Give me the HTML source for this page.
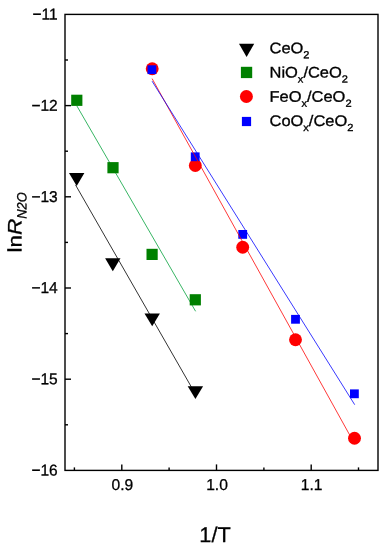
<!DOCTYPE html>
<html><head><meta charset="utf-8"><title>lnR vs 1/T</title>
<style>html,body{margin:0;padding:0;background:#fff}svg{display:block}text{text-rendering:geometricPrecision;font-family:"Liberation Sans",Arial,sans-serif;fill:#000;stroke:#000;stroke-width:0.3px}</style></head><body>
<svg width="385" height="550" viewBox="0 0 385 550">
<rect width="385" height="550" fill="#fff"/>
<g fill="none" stroke-width="1" stroke-linecap="butt">
<line x1="75.5" y1="184.9" x2="195.4" y2="394" stroke="#000" stroke-opacity="0.8"/>
<line x1="76.8" y1="105.8" x2="195.6" y2="311.3" stroke="#00a038" stroke-opacity="0.78"/>
</g>
<polygon points="69.0,173.1 84.4,173.1 76.7,186.0" fill="#000"/>
<polygon points="105.1,258.3 120.5,258.3 112.8,271.2" fill="#000"/>
<polygon points="144.5,313.4 159.9,313.4 152.2,326.3" fill="#000"/>
<polygon points="187.7,386.2 203.1,386.2 195.4,399.1" fill="#000"/>
<rect x="71.2" y="94.7" width="11.2" height="11.2" fill="#008000"/>
<rect x="107.4" y="162.1" width="11.2" height="11.2" fill="#008000"/>
<rect x="146.5" y="248.8" width="11.2" height="11.2" fill="#008000"/>
<rect x="189.7" y="294.2" width="11.2" height="11.2" fill="#008000"/>
<circle cx="152.2" cy="68.8" r="6.45" fill="#ff0000"/>
<circle cx="195.3" cy="165.5" r="6.45" fill="#ff0000"/>
<circle cx="242.7" cy="247.2" r="6.45" fill="#ff0000"/>
<circle cx="295.5" cy="339.8" r="6.45" fill="#ff0000"/>
<circle cx="354.5" cy="438.3" r="6.45" fill="#ff0000"/>
<rect x="147.5" y="65.3" width="8.8" height="8.8" fill="#0000ff"/>
<rect x="190.8" y="152.4" width="8.8" height="8.8" fill="#0000ff"/>
<rect x="238.3" y="230.0" width="8.8" height="8.8" fill="#0000ff"/>
<rect x="291.1" y="314.9" width="8.8" height="8.8" fill="#0000ff"/>
<rect x="350.0" y="389.4" width="8.8" height="8.8" fill="#0000ff"/>
<g fill="none" stroke-width="1">
<line x1="152.1" y1="78.6" x2="354.5" y2="443.7" stroke="#ff0000" stroke-opacity="0.78"/>
<line x1="152.1" y1="81.2" x2="354.7" y2="404.7" stroke="#0000ff" stroke-opacity="0.78"/>
</g>
<g stroke="#000" stroke-width="1.4" fill="none">
<rect x="65.0" y="14.4" width="313.0" height="456.0"/>
<line x1="65.0" y1="60.0" x2="68.0" y2="60.0"/>
<line x1="65.0" y1="105.6" x2="71.0" y2="105.6"/>
<line x1="65.0" y1="151.2" x2="68.0" y2="151.2"/>
<line x1="65.0" y1="196.8" x2="71.0" y2="196.8"/>
<line x1="65.0" y1="242.4" x2="68.0" y2="242.4"/>
<line x1="65.0" y1="288.0" x2="71.0" y2="288.0"/>
<line x1="65.0" y1="333.6" x2="68.0" y2="333.6"/>
<line x1="65.0" y1="379.2" x2="71.0" y2="379.2"/>
<line x1="65.0" y1="424.8" x2="68.0" y2="424.8"/>
<line x1="74.4" y1="470.4" x2="74.4" y2="467.4"/>
<line x1="121.8" y1="470.4" x2="121.8" y2="464.4"/>
<line x1="169.1" y1="470.4" x2="169.1" y2="467.4"/>
<line x1="216.5" y1="470.4" x2="216.5" y2="464.4"/>
<line x1="263.9" y1="470.4" x2="263.9" y2="467.4"/>
<line x1="311.2" y1="470.4" x2="311.2" y2="464.4"/>
<line x1="358.5" y1="470.4" x2="358.5" y2="467.4"/>
</g>
<g font-size="15.6" text-anchor="end">
<text transform="translate(57.7,19.5) rotate(0.05) scale(0.995,1)">−11</text>
<text transform="translate(57.7,110.7) rotate(0.05) scale(0.995,1)">−12</text>
<text transform="translate(57.7,201.9) rotate(0.05) scale(0.995,1)">−13</text>
<text transform="translate(57.7,293.1) rotate(0.05) scale(0.995,1)">−14</text>
<text transform="translate(57.7,384.3) rotate(0.05) scale(0.995,1)">−15</text>
<text transform="translate(57.7,475.5) rotate(0.05) scale(0.995,1)">−16</text>
</g>
<g font-size="15.6" text-anchor="middle">
<text transform="translate(122.3,489.9) rotate(0.05)">0.9</text>
<text transform="translate(217.0,489.9) rotate(0.05)">1.0</text>
<text transform="translate(311.7,489.9) rotate(0.05)">1.1</text>
</g>
<text transform="translate(215.0,541.9) rotate(0.05) scale(1.02,1)" font-size="21.3" text-anchor="middle">1/T</text>
<text transform="translate(21.4,252.6) rotate(-89.95) scale(1.145,1)" font-size="19.6">ln<tspan font-style="italic">R</tspan></text>
<text transform="translate(26.5,218.7) rotate(-89.95) scale(0.94,1)" font-size="13.6" font-style="italic">N2O</text>
<polygon points="239,43.7 254.2,43.7 246.6,57.0" fill="#000"/>
<rect x="240.9" y="66.8" width="11.3" height="11.3" fill="#008000"/>
<circle cx="246.4" cy="96.5" r="6.5" fill="#ff0000"/>
<rect x="241.9" y="116.9" width="9.2" height="9.2" fill="#0000ff"/>
<g font-size="15.3">
<text transform="translate(269.5,53.30) rotate(0.05) scale(1.075,1)">CeO<tspan font-size="10.3" dy="5.0">2</tspan></text>
<text transform="translate(269.5,77.50) rotate(0.05) scale(1.075,1)">NiO<tspan font-size="10.3" dy="5.0">x</tspan><tspan dy="-5.0">/CeO</tspan><tspan font-size="10.3" dy="5.0">2</tspan></text>
<text transform="translate(269.5,101.70) rotate(0.05) scale(1.075,1)">FeO<tspan font-size="10.3" dy="5.0">x</tspan><tspan dy="-5.0">/CeO</tspan><tspan font-size="10.3" dy="5.0">2</tspan></text>
<text transform="translate(269.5,125.90) rotate(0.05) scale(1.075,1)">CoO<tspan font-size="10.3" dy="5.0">x</tspan><tspan dy="-5.0">/CeO</tspan><tspan font-size="10.3" dy="5.0">2</tspan></text>
</g>
</svg></body></html>
